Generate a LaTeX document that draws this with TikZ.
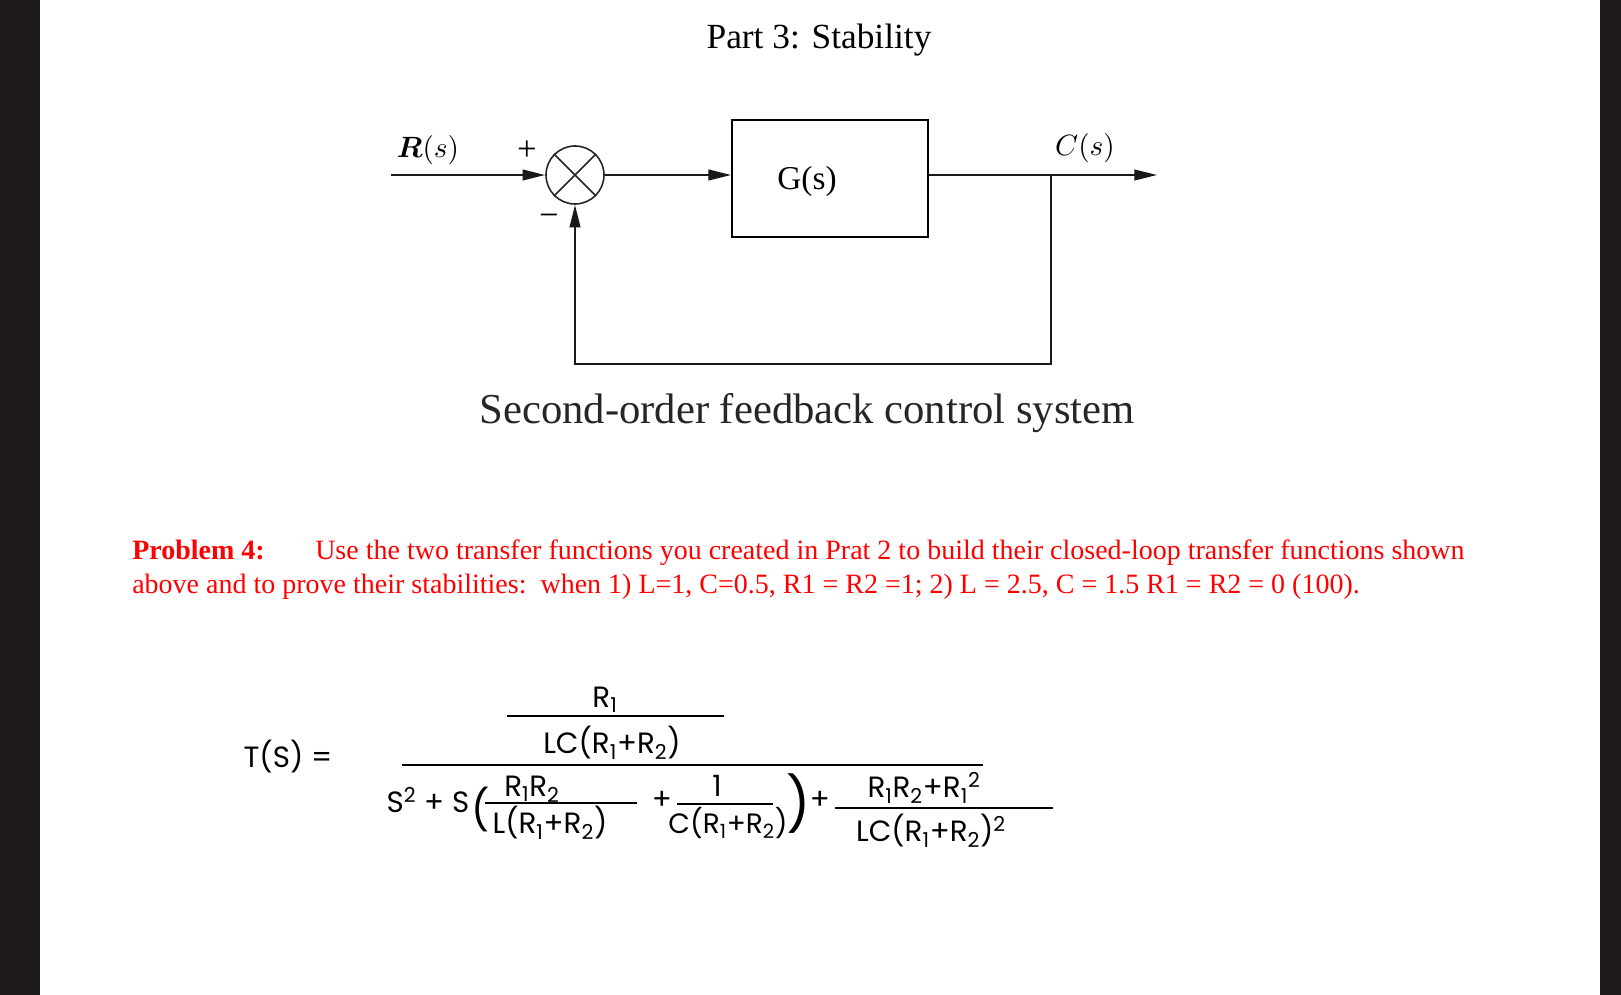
\documentclass[tikz,border=0pt]{standalone}
\usepackage{fontspec}
\setmainfont{Liberation Serif}
\newfontfamily\hand{Poppins}
\usetikzlibrary{arrows.meta}
\definecolor{barclr}{HTML}{1F1B1A}
\definecolor{probred}{HTML}{FF0000}
\begin{document}
\begin{tikzpicture}[x=0.75pt,y=-0.75pt,
  wire/.style={line width=1.5pt, draw=black!90},
  arr/.style={wire,-{Triangle[length=17pt,width=8pt]}},
  hw/.style={font=\hand\fontsize{22}{26}\selectfont, inner sep=0pt},
  hwbar/.style={line width=1.4pt},
  ptxt/.style={font=\fontsize{21}{25}\selectfont, text=probred, inner sep=0pt, anchor=base west}]
\useasboundingbox (0,0) rectangle (1621,995);
\fill[white] (0,0) rectangle (1621,995);
\fill[barclr] (0,0) rectangle (40,995);
\fill[barclr] (1600,0) rectangle (1621,995);

% title
\node[font=\fontsize{26.5}{30}\selectfont] (title) at (819,40) {Part 3: Stability};

% block diagram
\node[circle, draw=black!85, line width=1.2pt, minimum size=43.5pt, inner sep=0pt] (sum) at (575,175) {};
\draw[line width=1.2pt, black!85] (sum.north west) -- (sum.south east);
\draw[line width=1.2pt, black!85] (sum.north east) -- (sum.south west);
\node[draw, line width=1.5pt, minimum width=147pt, minimum height=87.75pt, inner sep=0pt] (G) at (830,178.5) {};
\node[font=\fontsize{25}{30}\selectfont] (gs) at (807,181) {G(s)};
\node[scale=2.2] (rs) at (428,150) {{\boldmath$R$}$(s)$};
\node[scale=2.2] (cs) at (1085,148) {$C(s)$};
\node[font=\fontsize{26}{30}\selectfont] (plus) at (527,151) {+};
\node[font=\fontsize{26}{30}\selectfont] (minus) at (549,220) {−};

\coordinate (rin) at (391,175);
\coordinate (cout) at (1157,175);
\coordinate (tap) at (1051,175);
\coordinate (fb) at (575,364);
\draw[arr] (rin) -- (sum.west);
\draw[arr] (sum.east) -- (sum.east -| G.west);
\draw[arr] (G.east |- sum.east) -- (cout);
\draw[arr] (tap) |- (fb) -- (sum.south);

\node[font=\fontsize{32}{36}\selectfont, text=black!85] (caption) at (807,413) {Second-order feedback control system};

% problem text
\node[ptxt, font=\bfseries\fontsize{21}{25}\selectfont] (prob) at (132,559) {Problem 4:};
\node[ptxt] (line1) at (315,559) {Use the two transfer functions you created in Prat 2 to build their closed-loop transfer functions shown};
\node[ptxt] (line2) at (132,593) {above and to prove their stabilities:\ \ when 1) L=1, C=0.5, R1 = R2 =1; 2) L = 2.5, C = 1.5 R1 = R2 = 0 (100).};

% handwritten formula
\node[hw] (ts) at (288,757) {T(S) =};
\node[hw] (r1) at (605,700) {R\textsubscript{1}};
\draw[hwbar] (507,716) -- (724,716);
\node[hw] (lc) at (612,743) {LC(R\textsubscript{1}+R\textsubscript{2})};
\draw[hwbar] (402,765) -- (983,765);
\node[hw] (s2) at (428,800) {S\textsuperscript{2} + S};
\node[hw, font=\hand\fontsize{30}{34}\selectfont] (lp) at (481,810) {(};
\node[hw] (n2) at (532,789) {R\textsubscript{1}R\textsubscript{2}};
\draw[hwbar] (485,803) -- (637,803);
\node[hw] (d2) at (550,823) {L(R\textsubscript{1}+R\textsubscript{2})};
\node[hw] (pl1) at (662,800) {+};
\node[hw] (n3) at (717,786) {1};
\draw[hwbar] (677,804) -- (773,804);
\node[hw, font=\hand\fontsize{21}{25}\selectfont] (d3) at (728,823) {C(R\textsubscript{1}+R\textsubscript{2})};
\node[hw, font=\hand\fontsize{40}{44}\selectfont] (rp) at (799,804) {)};
\node[hw] (pl2) at (820,800) {+};
\node[hw] (n4) at (924,788) {R\textsubscript{1}R\textsubscript{2}+R\textsubscript{1}\textsuperscript{2}};
\draw[hwbar] (835,808) -- (1053,808);
\node[hw] (d4) at (931,831) {LC(R\textsubscript{1}+R\textsubscript{2})\textsuperscript{2}};
\end{tikzpicture}
\end{document}
